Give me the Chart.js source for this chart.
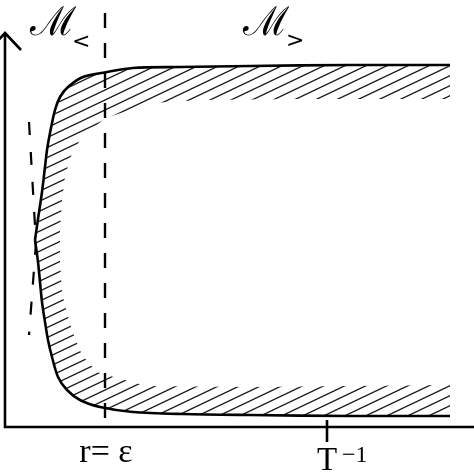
<!DOCTYPE html>
<html>
<head>
<meta charset="utf-8">
<script src="https://cdn.jsdelivr.net/npm/chart.js@4.4.0/dist/chart.umd.min.js"></script>
<style>
  html, body { margin: 0; padding: 0; background: #fff; }
  #wrap { width: 474px; height: 474px; }
</style>
</head>
<body>
<div id="wrap"><canvas id="diagram" width="474" height="474"></canvas></div>
<script>
// boundary of the region, upper branch (from large r down to the turning point)
const outerTop = [
  [445, 362], [345, 362], [245, 361], [175, 360], [128, 359], [102, 355], [78, 350],
  [63, 340], [55, 330], [50, 317], [45, 294], [42, 277], [40, 260], [37, 235],
  [33, 208], [30, 187]
];
// lower branch (from the turning point out to large r)
const outerBottom = [
  [30, 187], [33, 165], [35, 145], [37, 125], [40, 105], [43, 87], [47, 70],
  [53, 50], [62, 37], [75, 27], [95, 20], [128, 15], [178, 13], [245, 12],
  [345, 11], [445, 11]
];
// inner edge of the hatched band, top to bottom
const innerEdge = [
  [445, 328], [295, 328], [195, 327], [148, 324], [100, 309], [75, 287], [65, 269],
  [60, 250], [57, 227], [55, 197], [55, 167], [57, 134], [62, 114], [68, 94],
  [77, 72], [92, 55], [112, 49], [142, 41], [245, 40], [445, 42]
];
// dashed lines
const epsLine = [[100, 414], [100, 7]];
const slantLine = [[24, 305], [31, 184], [24, 92]];

// axis ranges and marks
const xMax = 469, yMax = 427, arrowTip = 394;
const rEps = 100, tInv = 322;

const toPts = arr => arr.map(p => ({ x: p[0], y: p[1] }));

// hatch pattern
function makeHatch() {
  const tile = document.createElement('canvas');
  tile.width = 21; tile.height = 10;
  const g = tile.getContext('2d');
  g.strokeStyle = '#1a1a1a';
  g.lineWidth = 1.3;
  for (let k = -1; k <= 1; k++) {
    g.beginPath();
    g.moveTo(-21, 20 + k * 10);
    g.lineTo(42, -10 + k * 10);
    g.stroke();
  }
  return document.getElementById('diagram').getContext('2d').createPattern(tile, 'repeat');
}

const region = outerTop.concat(outerBottom.slice(1), innerEdge.slice().reverse());

const overlay = {
  id: 'overlay',
  afterDatasetsDraw(chart) {
    const ctx = chart.ctx, xs = chart.scales.x, ys = chart.scales.y, a = chart.chartArea;
    const x0 = xs.getPixelForValue(0), y0 = ys.getPixelForValue(0);
    const yTip = ys.getPixelForValue(arrowTip);
    ctx.save();
    ctx.strokeStyle = '#000';
    ctx.lineWidth = 2.6;
    // axes
    ctx.beginPath();
    ctx.moveTo(x0, yTip);
    ctx.lineTo(x0, y0);
    ctx.lineTo(a.right, y0);
    ctx.stroke();
    // arrow head
    ctx.beginPath();
    ctx.moveTo(x0 - 16, yTip + 17);
    ctx.lineTo(x0, yTip);
    ctx.lineTo(x0 + 16, yTip + 17);
    ctx.stroke();
    // tick at T^-1
    const xt = xs.getPixelForValue(tInv);
    ctx.beginPath();
    ctx.moveTo(xt, y0 - 7);
    ctx.lineTo(xt, y0 + 15);
    ctx.stroke();

    // labels
    ctx.fillStyle = '#000';
    ctx.textBaseline = 'alphabetic';
    ctx.textAlign = 'center';
    ctx.font = '34px "Liberation Serif"';
    ctx.fillText('r= ε', xs.getPixelForValue(rEps) + 1, y0 + 35);
    ctx.textAlign = 'left';
    ctx.font = '33px "Liberation Serif"';
    ctx.fillText('T', xt - 10, y0 + 43);
    ctx.font = '24px "Liberation Serif"';
    ctx.fillText('−1', xt + 15, y0 + 35);

    ctx.font = '40px "DejaVu Serif"';
    ctx.fillText('ℳ', x0 + 25, 35);
    ctx.fillText('ℳ', x0 + 238, 35);
    ctx.font = '22px "DejaVu Sans"';
    ctx.textBaseline = 'middle';
    ctx.fillText('<', x0 + 67, 42);
    ctx.fillText('>', x0 + 281, 41);
    ctx.restore();
  }
};

new Chart(document.getElementById('diagram'), {
  type: 'scatter',
  data: {
    datasets: [
      {
        data: toPts(outerTop), showLine: true, borderColor: '#000', borderWidth: 2.6,
        tension: 0.3, pointRadius: 0, fill: false, order: 1
      },
      {
        data: toPts(outerBottom), showLine: true, borderColor: '#000', borderWidth: 2.6,
        tension: 0.3, pointRadius: 0, fill: false, order: 1
      },
      {
        data: toPts(epsLine), showLine: true, borderColor: '#000', borderWidth: 2.4,
        borderDash: [15, 15], pointRadius: 0, fill: false, order: 2
      },
      {
        data: toPts(slantLine), showLine: true, borderColor: '#000', borderWidth: 2.2,
        borderDash: [13, 17], pointRadius: 0, fill: false, order: 2
      },
      {
        data: toPts(region), showLine: true, borderWidth: 0, borderColor: 'rgba(0,0,0,0)',
        backgroundColor: makeHatch(), fill: 'shape', tension: 0, pointRadius: 0, order: 3
      }
    ]
  },
  options: {
    responsive: false,
    animation: false,
    layout: { padding: { left: 5, right: 0, top: 0, bottom: 47 } },
    plugins: { legend: { display: false }, tooltip: { enabled: false } },
    scales: {
      x: { type: 'linear', min: 0, max: xMax, display: false },
      y: { type: 'linear', min: 0, max: yMax, display: false }
    }
  },
  plugins: [overlay]
});
</script>
</body>
</html>
